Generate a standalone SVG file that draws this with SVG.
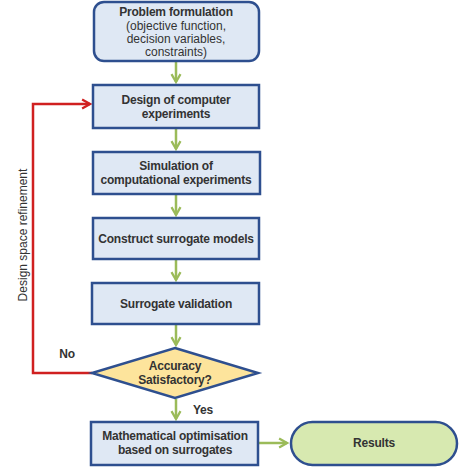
<svg xmlns="http://www.w3.org/2000/svg" width="474" height="474" viewBox="0 0 474 474">
<style>
.box{fill:#dfe8f4;stroke:#2e4f8f;stroke-width:2.5}
.t{font-family:"Liberation Sans",Arial,sans-serif;font-size:12px;font-weight:bold;fill:#333;text-anchor:middle;letter-spacing:-0.2px}
.n{font-weight:normal;letter-spacing:0}
.g{stroke:#9bbb59;stroke-width:2.5;fill:none}
.r{stroke:#d02020;stroke-width:2.5;fill:none}
</style>
<defs>
<marker id="ga" viewBox="0 0 10 10" refX="8" refY="5" markerWidth="4.5" markerHeight="4.5" orient="auto" markerUnits="strokeWidth">
<path d="M1,1 L8,5 L1,9" fill="none" stroke="#9bbb59" stroke-width="2"/>
</marker>
<marker id="ra" viewBox="0 0 10 10" refX="8" refY="5" markerWidth="4.5" markerHeight="4.5" orient="auto" markerUnits="strokeWidth">
<path d="M1,1 L8,5 L1,9" fill="none" stroke="#d02020" stroke-width="2"/>
</marker>
</defs>
<g id="connectors">
<line class="g" x1="176" y1="62" x2="176" y2="82" marker-end="url(#ga)"/>
<line class="g" x1="176" y1="129" x2="176" y2="149" marker-end="url(#ga)"/>
<line class="g" x1="176" y1="195" x2="176" y2="215" marker-end="url(#ga)"/>
<line class="g" x1="176" y1="260" x2="176" y2="280" marker-end="url(#ga)"/>
<line class="g" x1="176" y1="325" x2="176" y2="345" marker-end="url(#ga)"/>
<line class="g" x1="176" y1="399" x2="176" y2="419" marker-end="url(#ga)"/>
<line class="g" x1="259" y1="443" x2="287" y2="443" marker-end="url(#ga)"/>
<polyline class="r" points="92,373 33,373 33,104 90,104" marker-end="url(#ra)"/>
<text class="t" x="203" y="414">Yes</text>
<text class="t" x="67" y="358">No</text>
<text class="t n" transform="translate(27,235) rotate(-90)">Design space refinement</text>
</g>
<g id="n1">
<rect class="box" x="94" y="2" width="165" height="59" rx="10"/>
<text class="t" x="176" y="16">Problem formulation</text>
<text class="t n" x="176" y="30">(objective function,</text>
<text class="t n" x="176" y="43">decision variables,</text>
<text class="t n" x="176" y="56">constraints)</text>
</g>
<g id="n2">
<rect class="box" x="93" y="85" width="166" height="43"/>
<text class="t" x="176" y="104">Design of computer</text>
<text class="t" x="176" y="118">experiments</text>
</g>
<g id="n3">
<rect class="box" x="93" y="152" width="167" height="42"/>
<text class="t" x="176" y="170">Simulation of</text>
<text class="t" x="176" y="184">computational experiments</text>
</g>
<g id="n4">
<rect class="box" x="93" y="218" width="166" height="41"/>
<text class="t" x="176" y="243">Construct surrogate models</text>
</g>
<g id="n5">
<rect class="box" x="92" y="283" width="167" height="41"/>
<text class="t" x="176" y="308">Surrogate validation</text>
</g>
<g id="n6">
<polygon points="175,348 258,373 175,398 92,373" fill="#fde49c" stroke="#2e4f8f" stroke-width="2.5"/>
<text class="t" x="175" y="370">Accuracy</text>
<text class="t" x="175" y="384">Satisfactory?</text>
</g>
<g id="n7">
<rect class="box" x="91" y="422" width="167" height="43"/>
<text class="t" x="175" y="440">Mathematical optimisation</text>
<text class="t" x="175" y="454">based on surrogates</text>
</g>
<g id="n8">
<rect x="291" y="422" width="166" height="43" rx="21.5" fill="#d7e9b0" stroke="#2e4f8f" stroke-width="2.5"/>
<text class="t" x="374" y="447">Results</text>
</g>
</svg>
